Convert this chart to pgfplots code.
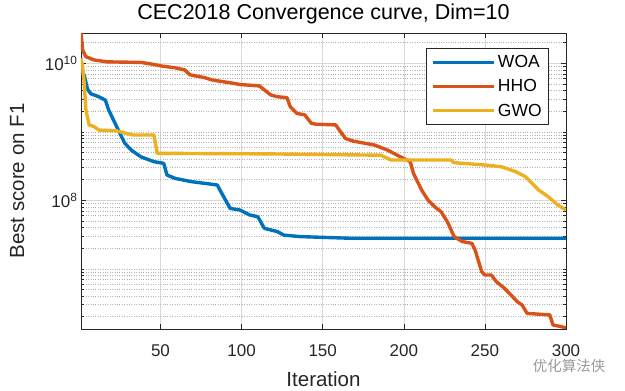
\documentclass[border=0pt]{standalone}
\usepackage{pgfplots}
\pgfplotsset{compat=1.18}
\usepackage{fontspec}
\setmainfont{Liberation Sans}
\newfontfamily\cjk{Noto Sans CJK SC}
\definecolor{woa}{RGB}{0,114,189}
\definecolor{hho}{RGB}{217,83,25}
\definecolor{gwo}{RGB}{237,177,32}
\definecolor{axc}{RGB}{38,38,38}
\begin{document}
\begin{tikzpicture}
\useasboundingbox (-81pt,-62pt) rectangle (544pt,329pt);
\begin{axis}[
  at={(0pt,0pt)}, anchor=south west,
  scale only axis, width=485pt, height=296pt,
  ymode=log, xmin=1, xmax=300, ymin=1.32e6, ymax=2.77e10,
  xtick={50,100,150,200,250,300},
  xticklabels={50,100,150,200,250,300},
  ytick={1e8,1e10},
  yticklabels={10\textsuperscript{8},10\textsuperscript{10}},
  minor ytick={2e6,3e6,4e6,5e6,6e6,7e6,8e6,9e6,1e7,2e7,3e7,4e7,5e7,6e7,7e7,8e7,9e7,2e8,3e8,4e8,5e8,6e8,7e8,8e8,9e8,1e9,2e9,3e9,4e9,5e9,6e9,7e9,8e9,9e9,2e10},
  xmajorgrids, ymajorgrids, yminorgrids,
  major grid style={solid, color=black!15, line width=0.5pt},
  minor grid style={dotted, color=black!30, line width=0.5pt},
  tick align=inside, tick pos=both,
  major tick length=5pt, minor tick length=3pt,
  axis line style={axc, line width=0.6pt},
  every tick/.style={axc, line width=0.5pt},
  tick label style={font=\fontsize{17}{20}\selectfont, text=axc},
  xticklabel style={anchor=base, yshift=-27.7pt},
  title={CEC2018 Convergence curve, Dim=10},
  title style={at={(axis description cs:0.5,1.027)}, anchor=base, font=\fontsize{21.5}{25}\selectfont},
  xlabel={Iteration},
  xlabel style={at={(axis description cs:0.5,-0.1926)}, anchor=base, font=\fontsize{20.5}{24}\selectfont, text=axc},
  ylabel={Best score on F1},
  ylabel style={at={(axis description cs:-0.1175,0.5)}, anchor=base, rotate=0, font=\fontsize{20.5}{24}\selectfont, text=axc},
  legend style={at={(0.965,0.949)}, anchor=north east, draw=axc, line width=0.6pt,
    font=\fontsize{17.5}{21}\selectfont, inner xsep=5pt, inner ysep=5pt,
    row sep=6.5pt, cells={anchor=west}},
  legend image code/.code={\draw[#1, line width=3.4pt] (0pt,0pt) -- (61pt,0pt);},
  every axis plot/.append style={line width=3.4pt, line join=round},
]
\addplot[woa] coordinates {(1,7.4e9)(3,6.7e9)(5,4.2e9)(7,3.6e9)(12,3.25e9)(16,2.9e9)(18,2.1e9)(22,1.33e9)(24,1.06e9)(27,7.6e8)(28,6.8e8)(32,5.4e8)(38,4.3e8)(46,3.66e8)(52,3.46e8)(54,2.34e8)(59,2.09e8)(69,1.87e8)(77,1.77e8)(85,1.67e8)(89,1.12e8)(93,7.6e7)(99,7.2e7)(105,6.1e7)(110,5.75e7)(114,3.9e7)(118,3.68e7)(122,3.5e7)(126,3.1e7)(136,2.95e7)(149,2.88e7)(167,2.79e7)(300,2.79e7)};
\addplot[hho] coordinates {(1,2.77e10)(2,1.56e10)(4,1.25e10)(9,1.12e10)(17,1.05e10)(38,1.03e10)(45,9.7e9)(51,9.1e9)(59,8.6e9)(65,8.0e9)(68,6.8e9)(77,6.2e9)(82,5.7e9)(95,5.1e9)(99,4.9e9)(111,4.67e9)(118,3.45e9)(122,3.25e9)(128,3.15e9)(130,2.32e9)(134,1.86e9)(139,1.76e9)(143,1.33e9)(146,1.29e9)(158,1.26e9)(164,8.0e8)(169,7.3e8)(176,6.8e8)(182,6.4e8)(190,5.4e8)(198,4.3e8)(204,3.65e8)(206,2.46e8)(211,1.41e8)(215,1.0e8)(219,8.05e7)(223,6.8e7)(227,4.8e7)(231,2.95e7)(236,2.5e7)(242,2.35e7)(244,1.87e7)(248,9.1e6)(250,8.1e6)(254,8.1e6)(257,6.5e6)(262,5.2e6)(265,4.4e6)(270,3.3e6)(273,2.95e6)(276,2.23e6)(290,2.12e6)(292,1.51e6)(297,1.43e6)(300,1.37e6)};
\addplot[gwo] coordinates {(1,1.18e10)(2,8.9e9)(3,5.1e9)(4,2.1e9)(6,1.26e9)(9,1.19e9)(12,1.06e9)(23,1.03e9)(33,8.97e8)(46,8.97e8)(48,4.85e8)(120,4.75e8)(186,4.55e8)(192,3.87e8)(229,3.87e8)(231,3.54e8)(250,3.27e8)(260,3.09e8)(269,2.62e8)(275,2.21e8)(279,1.78e8)(283,1.42e8)(289,1.13e8)(295,8.5e7)(300,7.2e7)};
\legend{WOA,HHO,GWO}
\end{axis}
\node[text=black!40, font=\cjk\fontsize{14.5}{15}\selectfont, anchor=center, inner sep=0pt] at (488pt,-37pt) {优化算法侠};
\end{tikzpicture}
\end{document}
